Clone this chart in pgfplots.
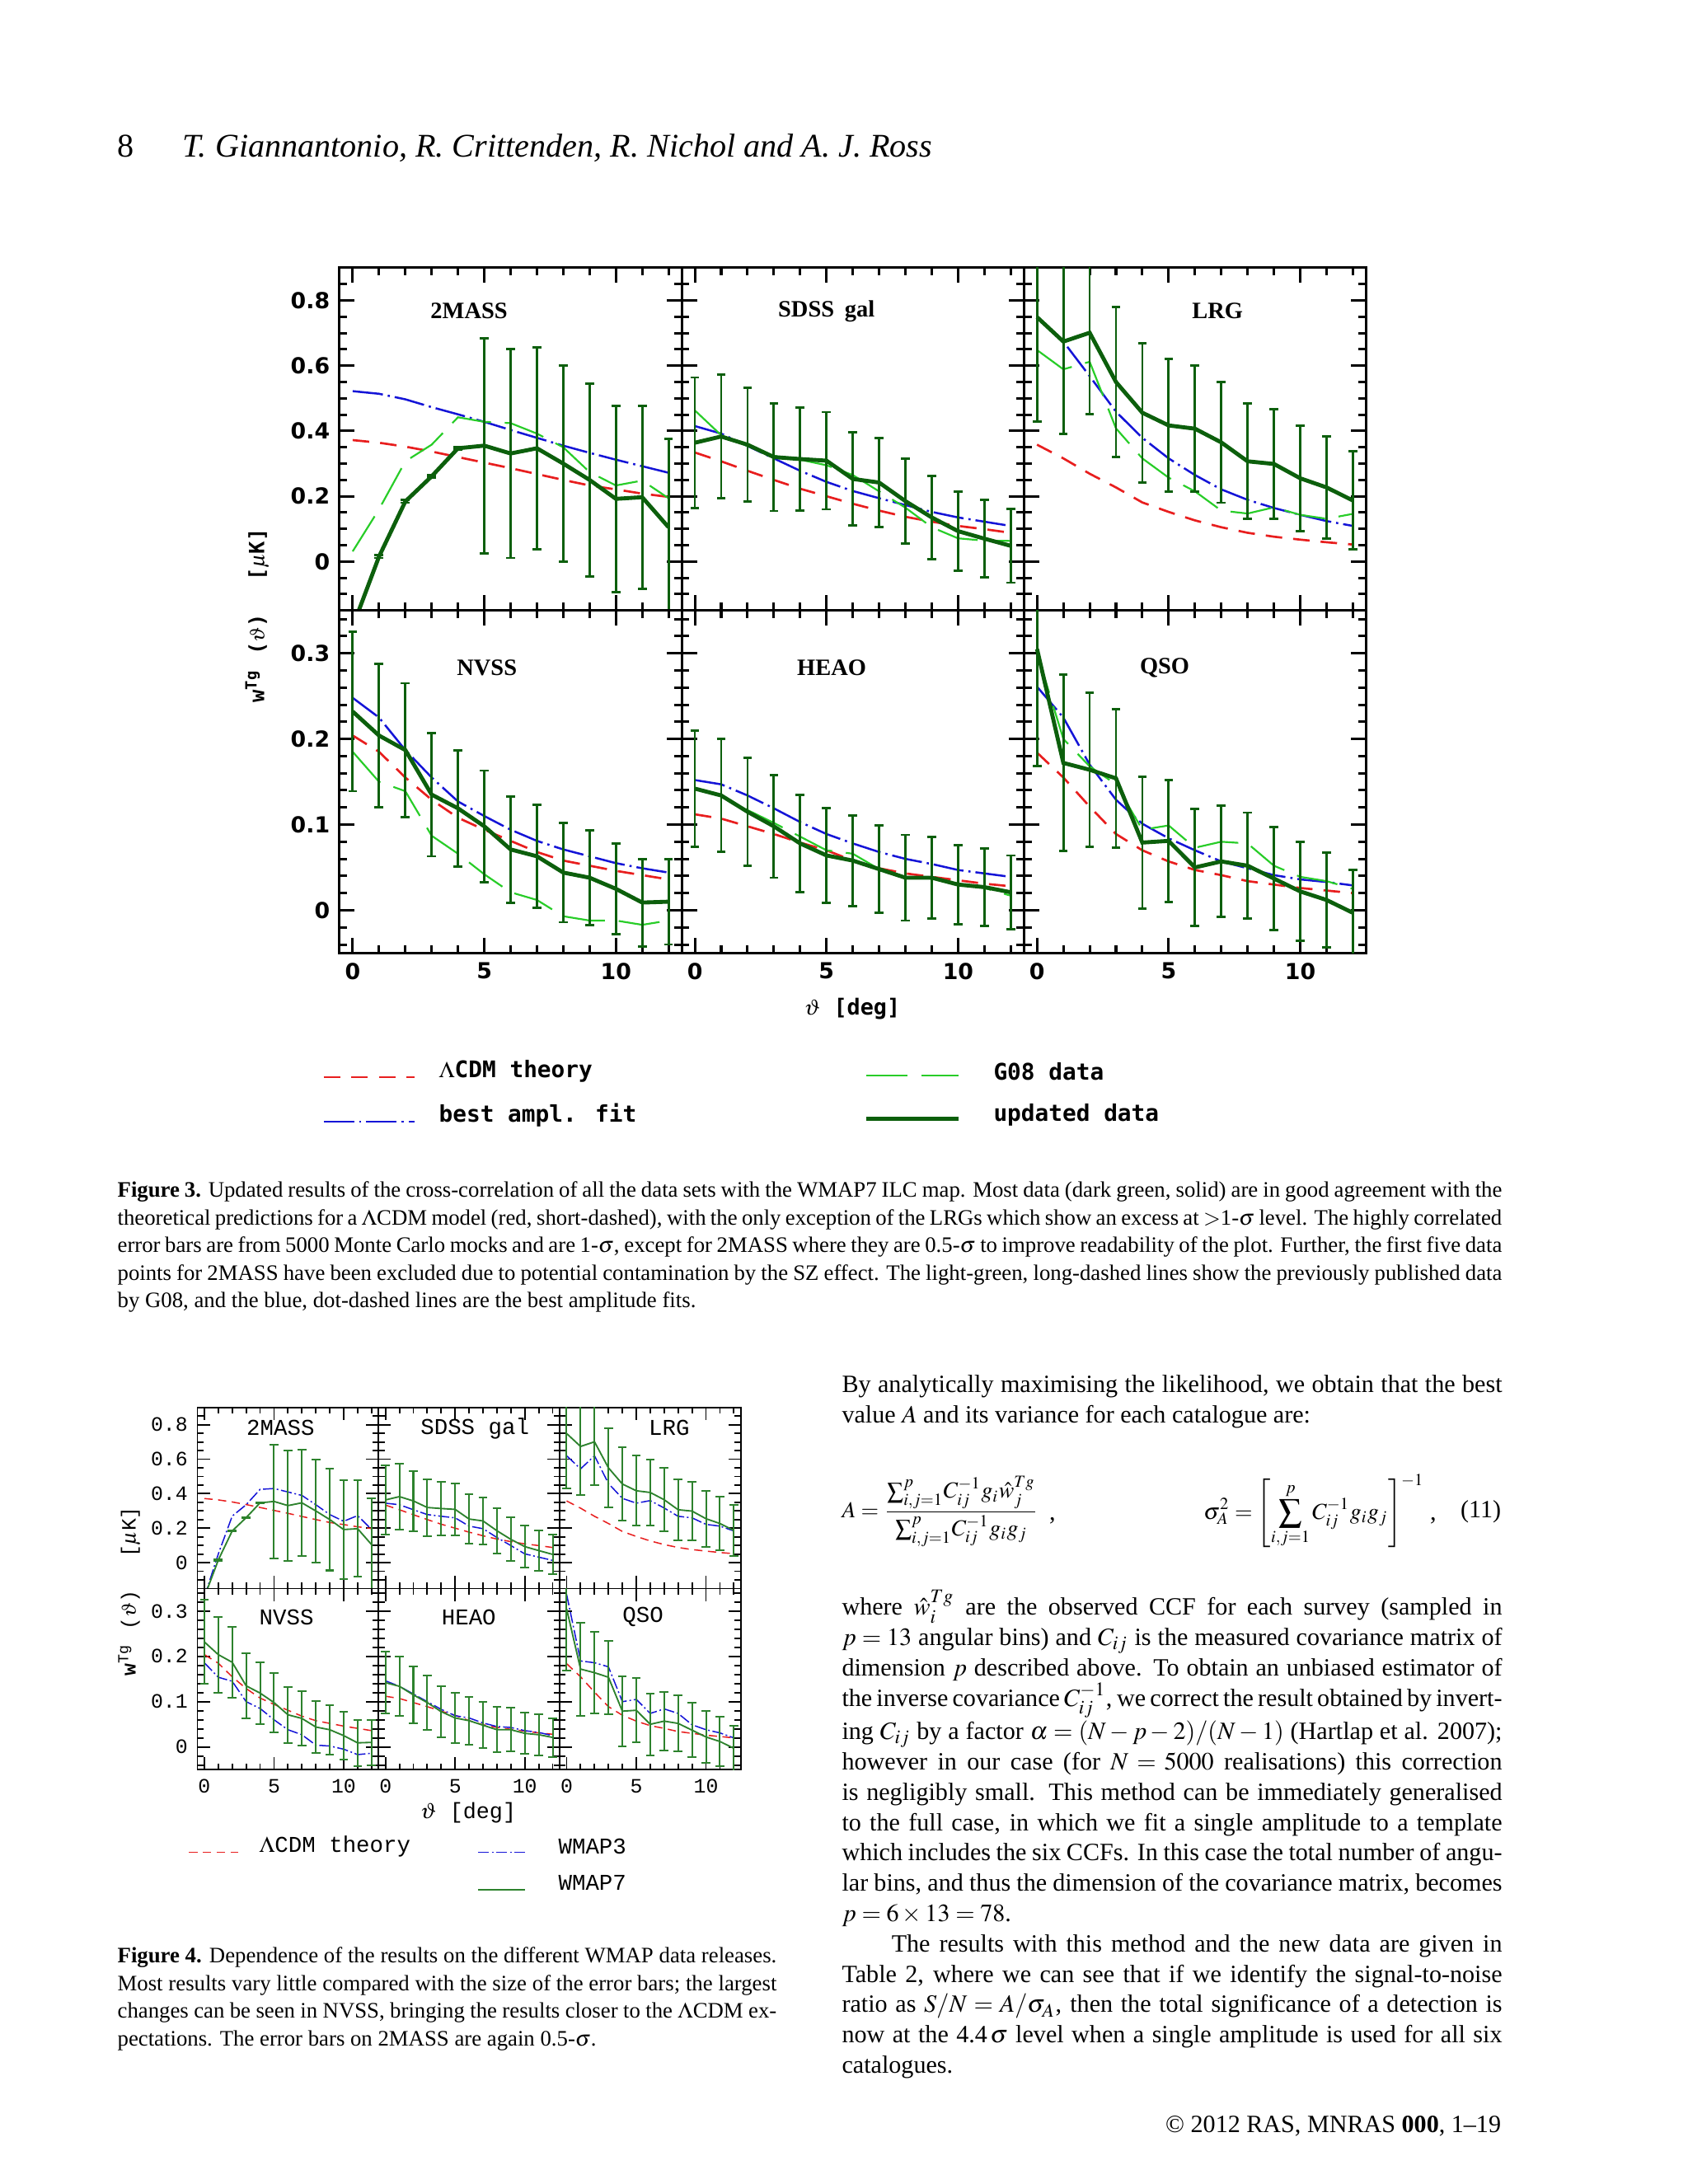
\documentclass[border=0pt]{standalone}
\usepackage{mathptmx}
\usepackage[no-math]{fontspec}
\setmainfont{Liberation Serif}
\newfontfamily\tickfont{DejaVu Sans}
\newfontfamily\smfont{DejaVu Sans Mono}
\newfontfamily\fourfont{Liberation Mono}
\usepackage{pgfplots}
\usepackage{pgfplotstable}
\pgfplotsset{compat=1.18}

\definecolor{myred}{RGB}{232,30,30}
\definecolor{myblue}{RGB}{20,20,215}
\definecolor{ltgreen}{RGB}{40,205,40}
\definecolor{dkgreen}{RGB}{12,95,12}
\definecolor{mdgreen}{RGB}{45,130,45}

% columns: x, LCDM theory, best fit, G08 data, updated (WMAP7) data, error, WMAP3
\pgfplotstableread{
x lcdm fit g08 upd err w3
0 0.372 0.522 0.031 -0.200 0.000 -0.200
1 0.364 0.514 0.160 0.015 0.004 0.050
2 0.352 0.497 0.307 0.184 0.004 0.270
3 0.337 0.473 0.358 0.261 0.004 0.336
4 0.320 0.451 0.442 0.347 0.004 0.425
5 0.303 0.428 0.428 0.355 0.330 0.430
6 0.286 0.403 0.424 0.331 0.320 0.410
7 0.268 0.379 0.392 0.347 0.310 0.390
8 0.250 0.355 0.350 0.300 0.300 0.336
9 0.233 0.333 0.274 0.250 0.295 0.279
10 0.221 0.312 0.233 0.192 0.285 0.240
11 0.208 0.292 0.248 0.197 0.280 0.273
12 0.198 0.272 0.194 0.105 0.270 0.193
}\tabA
\pgfplotstableread{
x lcdm fit g08 upd err w3
0 0.334 0.415 0.463 0.364 0.200 0.345
1 0.307 0.392 0.387 0.383 0.190 0.336
2 0.278 0.354 0.354 0.358 0.175 0.307
3 0.250 0.316 0.324 0.320 0.165 0.279
4 0.223 0.278 0.312 0.314 0.157 0.269
5 0.200 0.244 0.295 0.309 0.149 0.260
6 0.177 0.216 0.265 0.253 0.142 0.212
7 0.156 0.194 0.215 0.242 0.136 0.197
8 0.137 0.173 0.165 0.185 0.130 0.146
9 0.122 0.152 0.105 0.135 0.127 0.099
10 0.109 0.135 0.071 0.093 0.122 0.051
11 0.099 0.122 0.064 0.070 0.118 0.032
12 0.088 0.109 0.063 0.048 0.113 0.013
}\tabB
\pgfplotstableread{
x lcdm fit g08 upd err w3
0 0.358 0.749 0.648 0.749 0.320 0.620
1 0.316 0.674 0.589 0.674 0.284 0.544
2 0.269 0.568 0.612 0.701 0.249 0.620
3 0.227 0.459 0.408 0.550 0.230 0.459
4 0.181 0.379 0.316 0.456 0.213 0.373
5 0.152 0.316 0.257 0.417 0.203 0.345
6 0.126 0.265 0.215 0.407 0.193 0.360
7 0.105 0.221 0.156 0.365 0.185 0.317
8 0.088 0.189 0.147 0.307 0.177 0.269
9 0.076 0.164 0.166 0.299 0.168 0.260
10 0.067 0.143 0.143 0.255 0.162 0.222
11 0.059 0.124 0.131 0.227 0.156 0.212
12 0.052 0.109 0.146 0.187 0.150 0.184
}\tabC
\pgfplotstableread{
x lcdm fit g08 upd err w3
0 0.204 0.248 0.185 0.232 0.093 0.186
1 0.185 0.225 0.150 0.204 0.084 0.154
2 0.155 0.187 0.139 0.187 0.078 0.145
3 0.129 0.155 0.087 0.135 0.072 0.100
4 0.108 0.127 0.066 0.119 0.068 0.085
5 0.094 0.110 0.042 0.098 0.065 0.060
6 0.081 0.094 0.021 0.071 0.062 0.038
7 0.068 0.081 0.012 0.063 0.060 0.027
8 0.058 0.071 -0.007 0.044 0.058 0.004
9 0.052 0.063 -0.012 0.038 0.055 0.002
10 0.046 0.055 -0.012 0.025 0.053 -0.005
11 0.041 0.049 -0.017 0.009 0.051 -0.017
12 0.036 0.044 -0.012 0.010 0.050 -0.014
}\tabD
\pgfplotstableread{
x lcdm fit g08 upd err w3
0 0.112 0.152 0.142 0.142 0.068 0.146
1 0.107 0.147 0.134 0.134 0.066 0.134
2 0.098 0.134 0.117 0.115 0.063 0.117
3 0.089 0.119 0.102 0.098 0.060 0.100
4 0.079 0.103 0.086 0.078 0.057 0.083
5 0.070 0.089 0.070 0.064 0.055 0.069
6 0.058 0.078 0.066 0.058 0.053 0.064
7 0.049 0.068 0.048 0.048 0.051 0.053
8 0.043 0.060 0.038 0.038 0.050 0.045
9 0.039 0.054 0.037 0.038 0.048 0.043
10 0.035 0.047 0.031 0.030 0.046 0.036
11 0.031 0.043 0.026 0.027 0.045 0.032
12 0.028 0.039 0.017 0.021 0.043 0.025
}\tabE
\pgfplotstableread{
x lcdm fit g08 upd err w3
0 0.184 0.261 0.300 0.305 0.137 0.337
1 0.155 0.225 0.200 0.172 0.103 0.190
2 0.121 0.170 0.168 0.164 0.090 0.186
3 0.089 0.129 0.147 0.154 0.081 0.177
4 0.070 0.101 0.094 0.079 0.077 0.100
5 0.057 0.084 0.099 0.081 0.071 0.105
6 0.047 0.070 0.073 0.050 0.068 0.074
7 0.041 0.057 0.080 0.057 0.065 0.084
8 0.034 0.049 0.078 0.052 0.062 0.074
9 0.030 0.041 0.052 0.037 0.060 0.049
10 0.026 0.036 0.039 0.022 0.058 0.038
11 0.023 0.033 0.034 0.012 0.055 0.031
12 0.020 0.029 0.025 -0.003 0.050 0.020
}\tabF

\tikzset{
 lcdm3/.style={draw=myred, line width=0.8pt, dash pattern=on 6pt off 4pt},
 fit3/.style={draw=myblue, line width=0.75pt, dash pattern=on 11pt off 1.8pt on 0.8pt off 1.8pt},
 g083/.style={draw=ltgreen, line width=0.65pt, dash pattern=on 15pt off 5pt},
 upd3/.style={draw=dkgreen, line width=1.45pt},
 lcdm4/.style={draw=myred, line width=0.45pt, dash pattern=on 3pt off 2pt},
 w34/.style={draw=myblue, line width=0.45pt, dash pattern=on 4pt off 1pt on 0.6pt off 1pt},
 upd4/.style={draw=mdgreen, line width=0.55pt},
}

\pgfplotsset{
 f3/.style={
  scale only axis, width=124.07pt, height=124.25pt, anchor=north west,
  xmin=-0.5, xmax=12.5,
  axis line style={line width=0.9pt},
  tick align=inside, tick pos=both,
  xtick={0,5,10}, minor xtick={1,2,3,4,6,7,8,9,11,12},
  major tick length=5.5pt, minor tick length=2.8pt,
  tick style={black, line width=0.9pt},
  xticklabels={}, yticklabels={},
  tick label style={font=\tickfont\bfseries\fontsize{8}{9.6}\selectfont},
 },
 f4/.style={
  scale only axis, width=65.68pt, height=65.65pt, anchor=north west,
  xmin=-0.5, xmax=12.5,
  axis line style={line width=0.55pt},
  tick align=inside, tick pos=both,
  xtick={0,5,10}, minor xtick={1,2,3,4,6,7,8,9,11,12},
  major tick length=4.5pt, minor tick length=2.2pt,
  tick style={black, line width=0.55pt},
  xticklabels={}, yticklabels={},
  tick label style={font=\fourfont\fontsize{7.4}{8.8}\selectfont},
 },
 toprow/.style={ymin=-0.15, ymax=0.9, ytick={0,0.2,0.4,0.6,0.8},
  minor ytick={-0.1,-0.05,0.05,0.1,0.15,0.25,0.3,0.35,0.45,0.5,0.55,0.65,0.7,0.75,0.85}},
 botrow/.style={ymin=-0.05, ymax=0.35, ytick={0,0.1,0.2,0.3},
  minor ytick={-0.04,-0.02,0.02,0.04,0.06,0.08,0.12,0.14,0.16,0.18,0.22,0.24,0.26,0.28,0.32,0.34}},
}

% #1 table, #2 x(pt), #3 y(pt), #4 options, #5 label x, #6 label y, #7 label
\newcommand{\panelthree}[7]{%
\begin{axis}[f3, at={(#2pt,-#3pt)}, #4]
\addplot[lcdm3] table[x=x,y=lcdm]{#1};
\addplot[fit3] table[x=x,y=fit]{#1};
\addplot[g083] table[x=x,y=g08]{#1};
\addplot[upd3, mark=none,
  error bars/.cd, y dir=both, y explicit,
  error bar style={draw=dkgreen, line width=0.85pt, solid},
  error mark=|,
  error mark options={draw=dkgreen, line width=0.85pt, mark size=1.6pt, solid}]
  table[x=x,y=upd,y error=err]{#1};
\node[font=\bfseries\fontsize{8.5}{10}\selectfont] at (axis cs:#5,#6) {#7};
\end{axis}}

\newcommand{\panelfour}[7]{%
\begin{axis}[f4, at={(#2pt,-#3pt)}, #4]
\addplot[lcdm4] table[x=x,y=lcdm]{#1};
\addplot[w34] table[x=x,y=w3]{#1};
\addplot[upd4, mark=none,
  error bars/.cd, y dir=both, y explicit,
  error bar style={draw=mdgreen, line width=0.6pt, solid},
  error mark=|,
  error mark options={draw=mdgreen, line width=0.6pt, mark size=1.6pt, solid}]
  table[x=x,y=upd,y error=err]{#1};
\node[font=\fourfont\fontsize{8.2}{9.6}\selectfont] at (axis cs:#5,#6) {#7};
\end{axis}}

\begin{document}
\begin{tikzpicture}
\useasboundingbox (0,0) rectangle (612pt,-792pt);
\fill[white] (0,0) rectangle (612pt,-792pt);

% ---------------- Figure 3 ----------------
\panelthree{\tabA}{123.117}{97.12}{toprow, yticklabels={0,0.2,0.4,0.6,0.8}}{4.42}{0.767}{2MASS}
\panelthree{\tabB}{247.19}{97.12}{toprow}{5.0}{0.767}{SDSS\hspace{0.45em}gal}
\panelthree{\tabC}{371.26}{97.12}{toprow}{6.86}{0.767}{LRG}
\panelthree{\tabD}{123.117}{221.37}{botrow, yticklabels={0,0.1,0.2,0.3}, xticklabels={0,5,10}}{5.1}{0.283}{NVSS}
\panelthree{\tabE}{247.19}{221.37}{botrow, xticklabels={0,5,10}}{5.2}{0.283}{HEAO}
\panelthree{\tabF}{371.26}{221.37}{botrow, xticklabels={0,5,10}}{4.85}{0.283}{QSO}

% ---------------- Figure 4 ----------------
\panelfour{\tabA}{71.57}{510.40}{toprow, yticklabels={0,0.2,0.4,0.6,0.8}}{5.47}{0.78}{2MASS}
\panelfour{\tabB}{137.25}{510.40}{toprow}{6.42}{0.78}{SDSS gal}
\panelfour{\tabC}{202.94}{510.40}{toprow}{7.36}{0.78}{LRG}
\panelfour{\tabD}{71.57}{576.05}{botrow, yticklabels={0,0.1,0.2,0.3}, xticklabels={0,5,10}}{5.9}{0.287}{NVSS}
\panelfour{\tabE}{137.25}{576.05}{botrow, xticklabels={0,5,10}}{5.98}{0.287}{HEAO}
\panelfour{\tabF}{202.94}{576.05}{botrow, xticklabels={0,5,10}}{5.48}{0.287}{QSO}

\begin{scope}[x=0.298828pt,y=-0.298828pt]
% header
\node[anchor=base west, inner sep=0pt, font=\fontsize{12}{14}\selectfont] at (142,191) {8};
\node[anchor=base west, inner sep=0pt, font=\itshape\fontsize{12}{14}\selectfont] at (221,191) {T. Giannantonio, R. Crittenden, R. Nichol and A. J. Ross};

% Figure 3 labels and legend
\node[rotate=90, inner sep=0pt, font=\smfont\bfseries\fontsize{7.6}{9}\selectfont] at (312,747) {w\textsuperscript{Tg}\hspace{0.7em}($\vartheta$)\hspace{1.6em}[$\mu$K]};
\node[inner sep=0pt, font=\smfont\bfseries\fontsize{8}{9.6}\selectfont] at (1034,1224) {$\vartheta$ [deg]};
\draw[lcdm3] (393,1307) -- (503,1307);
\draw[fit3] (393,1361) -- (503,1361);
\draw[g083] (1051,1305) -- (1163,1305);
\draw[upd3] (1051,1358) -- (1163,1358);
\node[anchor=west, inner sep=0pt, font=\smfont\bfseries\fontsize{8.3}{10}\selectfont] at (532,1300) {$\Lambda$CDM theory};
\node[anchor=west, inner sep=0pt, font=\smfont\bfseries\fontsize{8.3}{10}\selectfont] at (532,1353) {best ampl. fit};
\node[anchor=west, inner sep=0pt, font=\smfont\bfseries\fontsize{8.3}{10}\selectfont] at (1205,1300) {G08 data};
\node[anchor=west, inner sep=0pt, font=\smfont\bfseries\fontsize{8.3}{10}\selectfont] at (1205,1353) {updated data};

% Figure 3 caption
\node[anchor=base west, inner sep=0pt, text width=502pt, align=justify, font=\fontsize{8}{10}\selectfont] at (142,1453)
{\textbf{Figure 3.} Updated results of the cross-correlation of all the data sets with the WMAP7 ILC map. Most data (dark green, solid) are in good agreement with the\linebreak
theoretical predictions for a $\Lambda$CDM model (red, short-dashed), with the only exception of the LRGs which show an excess at $>$1-$\sigma$ level. The highly correlated\linebreak
error bars are from 5000 Monte Carlo mocks and are 1-$\sigma$, except for 2MASS where they are 0.5-$\sigma$ to improve readability of the plot. Further, the first five data\linebreak
points for 2MASS have been excluded due to potential contamination by the SZ effect. The light-green, long-dashed lines show the previously published data\linebreak
by G08, and the blue, dot-dashed lines are the best amplitude fits.};

% Figure 4 labels and legend
\node[rotate=90, inner sep=0pt, font=\fourfont\fontsize{7.4}{9}\selectfont] at (157,1931) {{\bfseries w}\textsuperscript{Tg}\hspace{0.7em}($\vartheta$)\hspace{1.6em}[$\mu$K]};
\node[inner sep=0pt, font=\fourfont\fontsize{8}{9.6}\selectfont] at (568,2200) {$\vartheta$ [deg]};
\draw[lcdm4] (229.5,2248) -- (289,2248);
\draw[w34] (580,2248) -- (637,2248);
\draw[upd4] (580,2293) -- (637,2293);
\node[anchor=west, inner sep=0pt, font=\fourfont\fontsize{8.2}{9.8}\selectfont] at (314,2241) {$\Lambda$CDM theory};
\node[anchor=west, inner sep=0pt, font=\fourfont\fontsize{8.2}{9.8}\selectfont] at (677,2241) {WMAP3};
\node[anchor=west, inner sep=0pt, font=\fourfont\fontsize{8.2}{9.8}\selectfont] at (677,2285) {WMAP7};

% Figure 4 caption
\node[anchor=base west, inner sep=0pt, text width=239pt, align=justify, font=\fontsize{8}{10}\selectfont] at (142,2382)
{\textbf{Figure 4.} Dependence of the results on the different WMAP data releases.\linebreak
Most results vary little compared with the size of the error bars; the largest\linebreak
changes can be seen in NVSS, bringing the results closer to the $\Lambda$CDM ex-\linebreak
pectations. The error bars on 2MASS are again 0.5-$\sigma$.};

% right column text
\node[anchor=base west, inner sep=0pt, text width=239.4pt, align=justify, font=\fontsize{9}{11}\selectfont] at (1021,1690)
{By analytically maximising the likelihood, we obtain that the best\linebreak
value $A$ and its variance for each catalogue are:};

\node[anchor=west, inner sep=0pt, font=\fontsize{8.3}{10}\selectfont] at (1021,1834)
{$\displaystyle A = \frac{\sum_{i,j=1}^{p}\! C^{-1}_{ij} g_i \hat{w}_j^{Tg}}{\sum_{i,j=1}^{p}\! C^{-1}_{ij} g_i g_j}$};
\node[anchor=base, inner sep=0pt, font=\fontsize{9}{11}\selectfont] at (1277,1845) {,};
\node[anchor=east, inner sep=0pt, font=\fontsize{8.3}{10}\selectfont] at (1729,1834)
{$\displaystyle \sigma_A^2 = \Biggl[\sum_{i,j=1}^{p} C^{-1}_{ij} g_i g_j\Biggr]^{-1}$};
\node[anchor=base, inner sep=0pt, font=\fontsize{9}{11}\selectfont] at (1739,1845) {,};
\node[anchor=east, inner sep=0pt, font=\fontsize{9}{11}\selectfont] at (1822,1834) {(11)};

\node[anchor=base west, inner sep=0pt, text width=239.4pt, align=justify, font=\fontsize{9}{11}\selectfont] at (1021,1960)
{where $\hat{w}_i^{Tg}$ are the observed CCF for each survey (sampled in\linebreak
$p=13$ angular bins) and $C_{ij}$ is the measured covariance matrix of\linebreak
dimension $p$ described above. To obtain an unbiased estimator of\linebreak
the inverse covariance $C^{-1}_{ij}$, we correct the result obtained by invert-\linebreak
ing $C_{ij}$ by a factor $\alpha = (N-p-2)/(N-1)$ (Hartlap et al. 2007);\linebreak
however in our case (for $N = 5000$ realisations) this correction\linebreak
is negligibly small. This method can be immediately generalised\linebreak
to the full case, in which we fit a single amplitude to a template\linebreak
which includes the six CCFs. In this case the total number of angu-\linebreak
lar bins, and thus the dimension of the covariance matrix, becomes\linebreak
$p = 6\times 13 = 78$.\par
\hspace*{18pt}The results with this method and the new data are given in\linebreak
Table 2, where we can see that if we identify the signal-to-noise\linebreak
ratio as $S/N = A/\sigma_A$, then the total significance of a detection is\linebreak
now at the 4.4$\,\sigma$ level when a single amplitude is used for all six\linebreak
catalogues.};

% footer
\node[anchor=base east, inner sep=0pt, font=\fontsize{9}{11}\selectfont] at (1822,2588) {\textcopyright\ 2012 RAS, MNRAS \textbf{000}, 1–19};
\end{scope}
\end{tikzpicture}
\end{document}
